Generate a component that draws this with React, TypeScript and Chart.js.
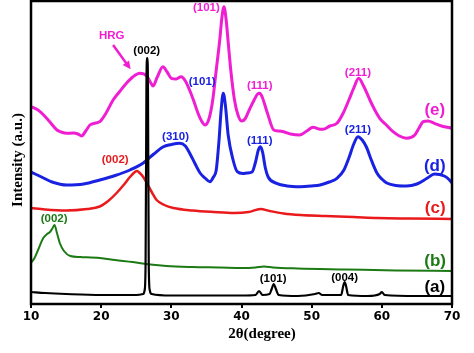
import React, { useEffect, useRef } from "react";
import { Chart, registerables } from "chart.js";
Chart.register(...registerables);

const W = 474;
const H = 353;

const xTickValues = [10, 20, 30, 40, 50, 60, 70];

// (a) black
const curveA: number[][] = [
  [10, 12], [12, 11], [15, 10], [20, 9], [25, 9], [26.0, 10], [26.2, 14], [26.33, 40], [26.45, 215], [26.52, 246],
  [26.6, 246], [26.67, 215], [26.78, 40], [26.92, 14], [27.2, 10], [30, 8.5], [35, 8.5], [40, 8.5], [42.0, 9], [42.5, 13],
  [43.0, 9], [44.0, 10], [44.3, 15], [44.6, 20], [44.9, 15], [45.3, 9], [48, 8], [50.5, 10], [51.0, 11],
  [51.5, 9], [54.2, 9], [54.5, 18], [54.7, 22], [54.9, 18], [55.2, 9], [58, 8], [59.7, 10], [60.0, 12],
  [60.4, 9], [65, 8], [70, 8],
];

// (b) green
const curveB: number[][] = [
  [10.0, 41], [10.5, 46], [11.0, 54], [11.75, 66], [12.3, 70], [12.7, 72], [13.0, 75], [13.35, 79], [13.7, 71],
  [14.1, 61], [14.7, 53], [15.6, 48], [17, 47], [19.8, 46], [22, 44], [24.5, 42], [27, 39.5], [29.3, 38],
  [33, 37], [37, 36.5], [40, 36], [42, 36.5], [43.2, 37.5], [44.5, 36.5], [48, 35.5], [55, 34.5], [62, 33.5],
  [70, 33],
];

// (c) red
const curveC: number[][] = [
  [10, 96], [12, 94.5], [15, 93.5], [18, 95], [19.8, 97.5], [21, 103], [22.2, 111], [23.2, 119], [24.1, 127],
  [24.8, 132], [25.1, 133], [25.5, 131], [26, 127], [26.5, 121], [27.2, 112], [27.9, 104], [29, 99],
  [30.3, 96], [33, 93.5], [36, 92], [39, 91], [41, 92], [42.7, 95], [44, 93], [46, 90.5], [48.4, 89],
  [52, 88], [56, 87], [59.4, 86], [64, 85.5], [70, 85],
];

// (d) blue
const curveD: number[][] = [
  [10, 132], [11.5, 127], [13, 122], [15.1, 119], [17.5, 120], [19.8, 124], [22, 128.5], [24.1, 134],
  [26, 141], [27.5, 150], [28.8, 157], [30, 159.5], [31.2, 160.7], [32, 158], [32.6, 151], [33.4, 140],
  [34.1, 131], [34.8, 126], [35.5, 122.3], [36.0, 127], [36.4, 134], [36.8, 164], [37.1, 194], [37.4, 210.7],
  [37.7, 199], [38.1, 169], [38.8, 144], [39.4, 132.3], [40.2, 130.5], [40.8, 131], [41.5, 132], [42.0, 142],
  [42.4, 154], [42.7, 157.3], [43.0, 152], [43.4, 136], [43.8, 127], [45, 120.7], [46.5, 118], [48.4, 117.3],
  [50, 118], [51.2, 119], [52.5, 122], [53.6, 125.7], [54.6, 134], [55.3, 146], [56, 160], [56.6, 167.3],
  [57.2, 164], [57.8, 157], [58.5, 144], [59.3, 131], [60, 125], [60.7, 121], [62, 118.5], [63.5, 118],
  [65, 120], [66.5, 126], [67.5, 130], [68.9, 128], [69.5, 125], [70, 121],
];

// (e) magenta
const curveE: number[][] = [
  [10, 197.3], [11, 194], [11.8, 189], [12.7, 182], [13.7, 174], [14.3, 172], [15.1, 170.7], [16, 171],
  [16.7, 170], [17.2, 168], [17.8, 173], [18.4, 179], [19.2, 181], [19.8, 182.3], [20.7, 191], [21.7, 204],
  [22.7, 213], [23.6, 220.7], [24.5, 227], [25.5, 230.7], [26.5, 228], [27.0, 222], [27.4, 218], [28.0, 227],
  [28.8, 237.3], [29.4, 232], [30.0, 225.7], [30.7, 225], [31.4, 227.3], [32.0, 223], [32.6, 214], [33.2, 203],
  [33.8, 190.7], [34.3, 183], [34.8, 179], [35.4, 186], [35.9, 204], [36.4, 234], [36.9, 264], [37.2, 286],
  [37.5, 297.3], [37.8, 285], [38.1, 262], [38.5, 232], [39.0, 204], [39.5, 189], [40.0, 183], [40.5, 185],
  [41.1, 194], [41.8, 204], [42.3, 210], [42.6, 210.7], [43.0, 206], [43.7, 190.7], [44.6, 174], [45.3, 173],
  [46, 172.3], [47, 170], [48.3, 169], [49.3, 173], [50.2, 176.7], [51.0, 175], [51.6, 174.7], [52.6, 178],
  [53.6, 180.7], [54.5, 191], [55.3, 204], [56.0, 216], [56.7, 225.7], [57.4, 218], [58.3, 204], [59.0, 194],
  [59.7, 185.7], [60.5, 180], [61.6, 172.3], [62.5, 168], [63.5, 165.7], [64.7, 169], [65.3, 176],
  [65.9, 182.3], [66.6, 183], [67.5, 180.7], [68.5, 178], [70, 175.7],
];

const BLACK = "#000000";
const GREEN = "#1c7a14";
const RED = "#ea1a1c";
const BLUE = "#1a22e2";
const MAGENTA = "#f01ed2";

const peakLabels = [
  { text: "HRG", x: 21.5, y: 268, color: MAGENTA, big: false },
  { text: "(002)", x: 26.5, y: 252.7, color: BLACK, big: false },
  { text: "(101)", x: 35.0, y: 296.5, color: MAGENTA, big: false },
  { text: "(101)", x: 34.4, y: 221.7, color: BLUE, big: false },
  { text: "(310)", x: 30.6, y: 167, color: BLUE, big: false },
  { text: "(002)", x: 22.0, y: 144, color: RED, big: false },
  { text: "(002)", x: 13.3, y: 84.8, color: GREEN, big: false },
  { text: "(111)", x: 42.6, y: 218.2, color: MAGENTA, big: false },
  { text: "(211)", x: 56.6, y: 231.5, color: MAGENTA, big: false },
  { text: "(111)", x: 42.6, y: 163.5, color: BLUE, big: false },
  { text: "(211)", x: 56.6, y: 174.5, color: BLUE, big: false },
  { text: "(101)", x: 44.5, y: 25.5, color: BLACK, big: false },
  { text: "(004)", x: 54.7, y: 26.5, color: BLACK, big: false },
  { text: "(e)", x: 67.55, y: 194, color: MAGENTA, big: true },
  { text: "(d)", x: 67.55, y: 138, color: BLUE, big: true },
  { text: "(c)", x: 67.6, y: 95.7, color: RED, big: true },
  { text: "(b)", x: 67.6, y: 42.3, color: GREEN, big: true },
  { text: "(a)", x: 67.55, y: 17, color: BLACK, big: true },
];

const arrowFrom = [21.7, 259];
const arrowTo = [24.2, 234.7];

const decor = {
  id: "decor",
  afterDatasetsDraw(chart: any) {
    const { ctx, chartArea: a, scales } = chart;
    const xs = scales.x;
    const ys = scales.y;
    ctx.save();
    ctx.textAlign = "center";
    ctx.textBaseline = "middle";
    for (const l of peakLabels) {
      ctx.font = l.big ? 'bold 17px "Liberation Sans"' : 'bold 11.5px "Liberation Sans"';
      ctx.fillStyle = l.color;
      ctx.fillText(l.text, xs.getPixelForValue(l.x), ys.getPixelForValue(l.y));
    }
    // arrow
    const x1 = xs.getPixelForValue(arrowFrom[0]);
    const y1 = ys.getPixelForValue(arrowFrom[1]);
    const x2 = xs.getPixelForValue(arrowTo[0]);
    const y2 = ys.getPixelForValue(arrowTo[1]);
    const ang = Math.atan2(y2 - y1, x2 - x1);
    ctx.strokeStyle = MAGENTA;
    ctx.fillStyle = MAGENTA;
    ctx.lineWidth = 2.5;
    ctx.beginPath();
    ctx.moveTo(x1, y1);
    ctx.lineTo(x2 - 5 * Math.cos(ang), y2 - 5 * Math.sin(ang));
    ctx.stroke();
    ctx.beginPath();
    ctx.moveTo(x2, y2);
    ctx.lineTo(x2 - 9 * Math.cos(ang - 0.45), y2 - 9 * Math.sin(ang - 0.45));
    ctx.lineTo(x2 - 9 * Math.cos(ang + 0.45), y2 - 9 * Math.sin(ang + 0.45));
    ctx.closePath();
    ctx.fill();
    // frame
    ctx.strokeStyle = "#000";
    ctx.lineWidth = 2.5;
    ctx.strokeRect(a.left, a.top, a.right - a.left, a.bottom - a.top);
    // axis titles
    ctx.fillStyle = "#000";
    ctx.font = 'bold 15px "Liberation Serif"';
    ctx.textAlign = "center";
    ctx.textBaseline = "middle";
    ctx.fillText("2θ(degree)", 262, 334);
    ctx.translate(18, 160);
    ctx.rotate(-Math.PI / 2);
    ctx.fillText("Intensity (a.u.)", 0, 0);
    ctx.restore();
  },
};

function toPts(c: number[][]) {
  return c.map(([x, y]) => ({ x, y }));
}

export default function App() {
  const ref = useRef<HTMLCanvasElement | null>(null);
  useEffect(() => {
    if (!ref.current) return;
    const mk = (data: number[][], color: string, width: number) => ({
      data: toPts(data),
      borderColor: color,
      borderWidth: width,
      pointRadius: 0,
      fill: false,
      cubicInterpolationMode: "monotone" as const,
    });
    const chart = new Chart(ref.current, {
      type: "line",
      data: {
        datasets: [
          mk(curveA, BLACK, 2.2),
          mk(curveB, GREEN, 2),
          mk(curveC, RED, 2.5),
          mk(curveD, BLUE, 3),
          mk(curveE, MAGENTA, 3),
        ] as any,
      },
      options: {
        animation: false,
        responsive: false,
        parsing: false as any,
        layout: { padding: { left: 31, right: 22, top: 1, bottom: 0 } },
        plugins: { legend: { display: false }, tooltip: { enabled: false } },
        scales: {
          x: {
            type: "linear",
            min: 10,
            max: 70,
            afterBuildTicks: (s: any) => {
              s.ticks = xTickValues.map((v) => ({ value: v }));
            },
            afterFit: (s: any) => {
              s.height = 49;
            },
            ticks: {
              color: "#000",
              font: { family: "DejaVu Sans", weight: "bold", size: 12 },
              padding: 2,
              maxRotation: 0,
            },
            grid: {
              display: true,
              drawOnChartArea: false,
              drawTicks: true,
              tickLength: 4,
              color: "#000",
              lineWidth: 2,
            },
            border: { display: false },
          },
          y: {
            type: "linear",
            display: false,
            min: 0,
            max: 303,
          },
        },
      },
      plugins: [decor],
    });
    return () => chart.destroy();
  }, []);
  return (
    <div style={{ position: "absolute", left: 0, top: 0, width: W, height: H, background: "#fff" }}>
      <canvas ref={ref} width={W} height={H} style={{ width: W, height: H }} />
    </div>
  );
}
